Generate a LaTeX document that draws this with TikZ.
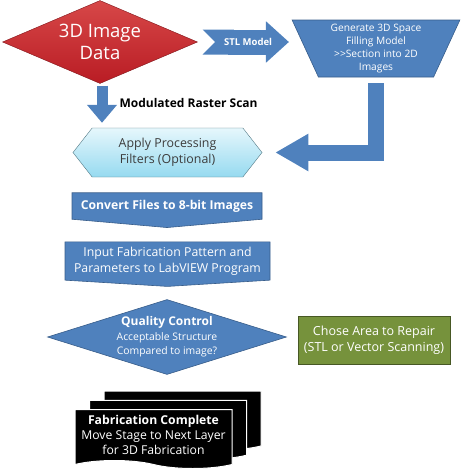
\documentclass[tikz,border=0pt]{standalone}
\usepackage{fontspec}
\setmainfont{Open Sans}
\usepackage{tikz}
\usetikzlibrary{calc, arrows.meta, shapes.geometric, shapes.symbols, positioning}
\tikzset{>=latex}
\definecolor{myblue}{RGB}{79, 129, 189}
\definecolor{myblue2}{RGB}{56, 93, 138}
\definecolor{myred}{RGB}{185, 28, 36}
\definecolor{myred2}{RGB}{215, 72, 72}
\definecolor{mygreen}{RGB}{118, 146, 60}
\definecolor{mycyan}{RGB}{150, 218, 240}
\definecolor{mycyan2}{RGB}{230, 247, 252}
\definecolor{mygray}{RGB}{60, 60, 60}
\tikzset{
bluebox/.style = {fill = myblue, draw = myblue2, line width = 0.6pt, text = white, inner sep = 0pt, align = center},
doc/.style = {tape, tape bend top = none, tape bend bottom = out and in, tape bend height = 8pt, fill = black, draw = white, line width = 1pt, minimum width = 157pt, minimum height = 59pt, text = white, align = center},
blockarrow/.style = {myblue, line width = 11pt, -{Triangle[width = 29pt, length = 18pt]}},
bentarrow/.style = {myblue, line width = 16pt, line join = miter, -{Triangle[width = 35pt, length = 33pt]}},
stlarrow/.style = {myblue, line width = 25pt, {Triangle Cap[reversed]}-{Triangle[width = 40pt, length = 23pt]}}
}

\begin{document}
\begin{tikzpicture}[x = 1pt, y = -1pt]
\useasboundingbox (0,0) rectangle (474,474);

\node[diamond, aspect = 2.35, minimum width = 195pt, minimum height = 83pt, inner sep = 0pt, top color = myred2, bottom color = myred, draw = myred!70!black, text = white, align = center, font = \fontsize{18.5}{22}\selectfont] (data) at (100,42) {3D Image\\Data};

\node[trapezium, trapezium left angle = 67, trapezium right angle = 67, shape border rotate = 180, trapezium stretches = true, minimum width = 168pt, minimum height = 57pt, bluebox, font = \fontsize{10.2}{13}\selectfont] (model) at (376,48.5) {Generate 3D Space\\Filling Model\\>{}>Section into 2D\\Images};

\node[signal, signal to = west and east, signal pointer angle = 104, minimum width = 189pt, minimum height = 49pt, inner sep = 0pt, top color = mycyan2, bottom color = mycyan, draw = mycyan!55!black, text = mygray, align = center, font = \fontsize{12.4}{15.5}\selectfont] (filters) at (167.5,152.5) {Apply Processing\\Filters (Optional)};

\node[signal, signal to = south, signal pointer angle = 170, minimum width = 190pt, minimum height = 34pt, bluebox, font = \bfseries\fontsize{12.2}{14}\selectfont] (convert) at (167,206) {Convert Files to 8-bit Images};

\node[signal, signal to = south, signal pointer angle = 173, minimum width = 205pt, minimum height = 44pt, bluebox, font = \fontsize{12.3}{16}\selectfont] (input) at (167.5,261) {Input Fabrication Pattern and\\Parameters to LabVIEW Program};

\node[diamond, aspect = 3.19, minimum width = 239pt, minimum height = 75pt, bluebox, font = \fontsize{10.4}{14.5}\selectfont] (quality) at (167,337) {{\bfseries\fontsize{12}{14.5}\selectfont Quality Control}\\Acceptable Structure\\Compared to image?};

\node[rectangle, minimum width = 152pt, minimum height = 48pt, fill = mygreen, draw = mygreen!60!black, line width = 0.6pt, text = white, align = center, font = \fontsize{12.5}{16}\selectfont] (repair) at (374,340) {Chose Area to Repair\\(STL or Vector Scanning)};

% stacked layers
\foreach \s in {2, 1}{
\node[doc] (layer\s) at ({153.5 + 14.5*\s}, {435 - 9.25*\s}) {};
}
\node[doc, font = \fontsize{12.2}{15}\selectfont] (done) at (153.5,435) {{\bfseries Fabrication Complete}\\Move Stage to Next Layer\\for 3D Fabrication};

\draw[stlarrow, shorten <= 5pt, shorten >= 16pt] (data.east) -- (data.east -| model.west) node[pos = 0.47, text = white, font = \bfseries\fontsize{9.5}{11}\selectfont] (stl) {STL Model};
\draw[blockarrow, shorten <= 2pt, shorten >= 5pt] ([xshift = 2pt]data.south) -- ([xshift = 2pt]data.south |- filters.north);
\node[anchor = west, font = \bfseries\fontsize{12}{14}\selectfont] (scan) at (116,103) {Modulated Raster Scan};
\draw[bentarrow, shorten <= 6pt, shorten >= 13pt] (model.south) |- (filters.east);
\end{tikzpicture}
\end{document}
